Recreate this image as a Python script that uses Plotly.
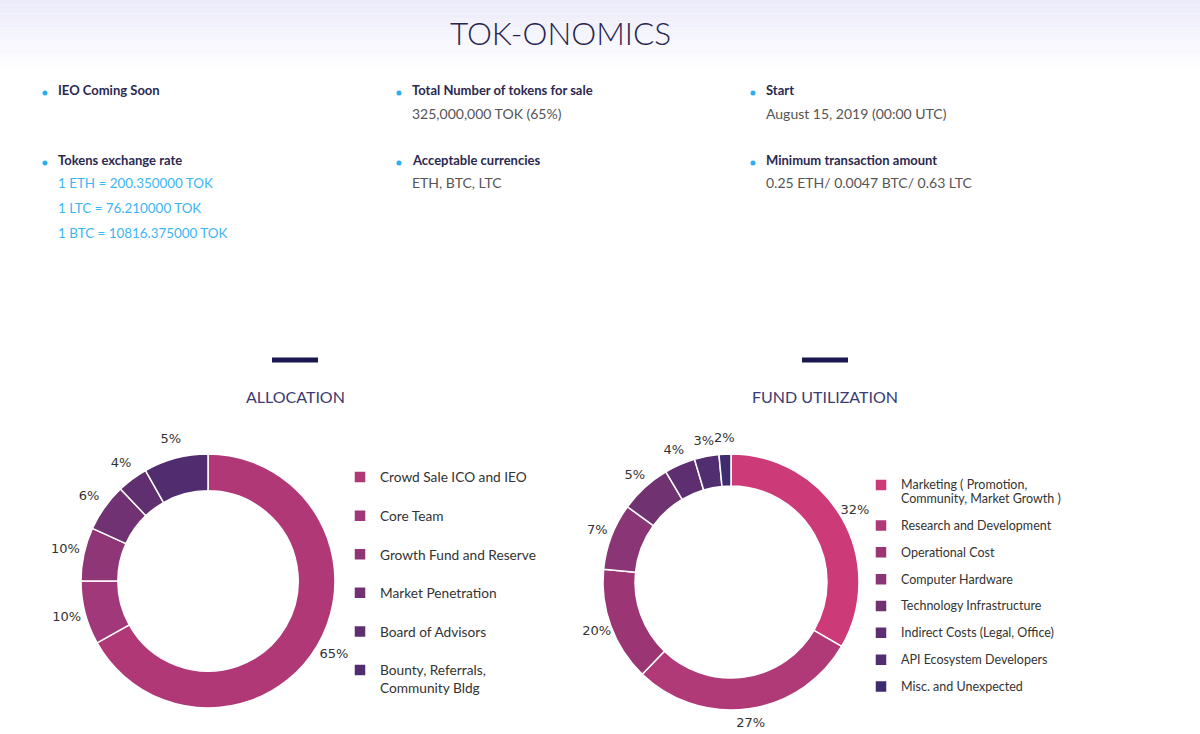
import plotly.graph_objects as go

# ---------------- data ----------------
page_title = "TOK-ONOMICS"

info_headings = [
    "IEO Coming Soon", "Total Number of tokens for sale", "Start",
    "Tokens exchange rate", "Acceptable currencies", "Minimum transaction amount",
]
info_values = [
    [], ["325,000,000 TOK (65%)"], ["August 15, 2019 (00:00 UTC)"],
    ["1 ETH = 200.350000 TOK", "1 LTC = 76.210000 TOK", "1 BTC = 10816.375000 TOK"],
    ["ETH, BTC, LTC"], ["0.25 ETH/ 0.0047 BTC/ 0.63 LTC"],
]
info_value_is_rate = [False, False, False, True, False, False]

alloc_title = "ALLOCATION"
alloc_categories = [
    "Crowd Sale ICO and IEO", "Core Team", "Growth Fund and Reserve",
    "Market Penetration", "Board of Advisors", "Bounty, Referrals,<br>Community Bldg",
]
alloc_shares_drawn = [66.9, 8.1, 6.8, 6.1, 3.9, 8.2]        # slice sizes as drawn
alloc_pct_text = ["65%", "10%", "10%", "6%", "4%", "5%"]      # printed labels

fund_title = "FUND UTILIZATION"
fund_categories = [
    "Marketing ( Promotion,<br>Community, Market Growth )", "Research and Development",
    "Operational Cost", "Computer Hardware", "Technology Infrastructure",
    "Indirect Costs (Legal, Office)", "API Ecosystem Developers", "Misc. and Unexpected",
]
fund_shares_drawn = [33.4, 28.8, 14.4, 8.4, 6.5, 3.9, 3.1, 1.5]
fund_pct_text = ["32%", "27%", "20%", "7%", "5%", "4%", "3%", "2%"]

# ---------------- styles ----------------
W, H = 1200, 734
alloc_colors = ["#b13877", "#a0387a", "#8e3676", "#703272", "#5f2f70", "#512d6f"]
fund_colors = ["#cd3a78", "#b03a77", "#9b3574", "#8a3576", "#703270", "#5e2f70", "#502e6f", "#3e2c6e"]
NAVY = "#27244f"
HEAD = "#2b2950"
GRAY = "#555555"
BLUE = "#3db5f3"
FONT = "Lato"
PCT_FONT = dict(family="DejaVu Sans", size=13, color="#333333")
CLEAR = "rgba(0,0,0,0)"


def px(x):
    return x / W


def py(y):
    return 1 - y / H


def domain(cx, cy, r):
    return dict(x=[px(cx - r), px(cx + r)], y=[py(cy + r), py(cy - r)])


def mid_angles(shares):
    """Mid angle (degrees, clockwise from 12 o'clock) of each slice."""
    total = float(sum(shares))
    out, acc = [], 0.0
    for s in shares:
        out.append((acc + s / 2) / total * 360)
        acc += s
    return out


ALLOC_C, ALLOC_R, ALLOC_LABEL_R = (208, 581), 127, 146
FUND_C, FUND_R, FUND_LABEL_R = (731, 582), 128, 143
POLAR_R = 150

fig = go.Figure()

# ---- allocation donut ----
alloc_legend_text = [c if "<br>" in c else c + "<br> " for c in alloc_categories]
fig.add_trace(go.Pie(
    labels=alloc_legend_text, values=alloc_shares_drawn,
    textinfo="none", sort=False, direction="clockwise", rotation=0, hole=0.71,
    marker=dict(colors=alloc_colors, line=dict(color="white", width=1.5)),
    domain=domain(*ALLOC_C, ALLOC_R), legend="legend", hoverinfo="skip",
))

# ---- fund utilization donut ----
FUND_LEG_FONT = 2.62
FUND_LH = FUND_LEG_FONT * 1.3


def fund_label(c):
    parts = c.split("<br>")
    span = "<span style='font-size:12.5px'>%s</span>"
    if len(parts) == 1:
        lines = [" ", span % parts[0]] + [" "] * 5
    else:
        lines = [" ", span % parts[0], " ", " ", " ", span % parts[1]] + [" "] * 5
    return "<br>".join(lines)


fig.add_trace(go.Pie(
    labels=[fund_label(c) for c in fund_categories], values=fund_shares_drawn,
    textinfo="none", sort=False, direction="clockwise", rotation=0, hole=0.75,
    marker=dict(colors=fund_colors, line=dict(color="white", width=1.5)),
    domain=domain(*FUND_C, FUND_R), legend="legend2", hoverinfo="skip",
))

# ---- percentage labels, placed on polar subplots aligned with the donuts ----
fig.add_trace(go.Scatterpolar(
    theta=mid_angles(alloc_shares_drawn), r=[ALLOC_LABEL_R] * len(alloc_pct_text),
    text=alloc_pct_text, mode="text", textfont=PCT_FONT, subplot="polar",
    showlegend=False, hoverinfo="skip", cliponaxis=False,
))
fig.add_trace(go.Scatterpolar(
    theta=mid_angles(fund_shares_drawn), r=[FUND_LABEL_R] * len(fund_pct_text),
    text=fund_pct_text, mode="text", textfont=PCT_FONT, subplot="polar2",
    showlegend=False, hoverinfo="skip", cliponaxis=False,
))

hidden_polar = dict(
    bgcolor=CLEAR,
    radialaxis=dict(range=[0, POLAR_R], visible=False),
    angularaxis=dict(rotation=90, direction="clockwise", visible=False),
)

shapes = []
# top lavender gradient
n_strips = 16
for i in range(n_strips):
    t = i / (n_strips - 1)
    r = int(236 + (255 - 236) * t)
    g = int(235 + (255 - 235) * t)
    b = int(250 + (255 - 250) * t)
    shapes.append(dict(type="rect", xref="paper", yref="paper", x0=0, x1=1,
                       y0=py(i * 4.5 + 4.5), y1=py(i * 4.5), fillcolor="rgb(%d,%d,%d)" % (r, g, b),
                       line=dict(width=0), layer="below"))

annotations = [dict(text=page_title, x=px(560), y=py(33), xref="paper", yref="paper",
                    showarrow=False, xanchor="center", yanchor="middle",
                    font=dict(family=FONT, size=31.5, color=NAVY, weight=300))]

col_x = [58, 412, 766]
row_y = [90, 160]
for k, head in enumerate(info_headings):
    cx = col_x[k % 3]
    ry = row_y[k // 3]
    shapes.append(dict(type="circle", xref="paper", yref="paper",
                       x0=px(cx - 15.5), x1=px(cx - 10.5), y0=py(ry + 5.5), y1=py(ry + 0.5),
                       fillcolor="#2aaef0", line=dict(width=0)))
    annotations.append(dict(text=head, x=px(cx - 2), y=py(ry), xref="paper", yref="paper",
                            showarrow=False, xanchor="left", yanchor="middle",
                            font=dict(family=FONT, size=13, color=HEAD, weight=700)))
    for j, val in enumerate(info_values[k]):
        rate = info_value_is_rate[k]
        annotations.append(dict(text=val, x=px(cx - 2), y=py(ry + 23 + 25 * j), xref="paper",
                                yref="paper", showarrow=False, xanchor="left", yanchor="middle",
                                font=dict(family=FONT, size=13.4 if rate else 14,
                                          color=BLUE if rate else GRAY)))

for cx, title in [(295, alloc_title), (825, fund_title)]:
    shapes.append(dict(type="rect", xref="paper", yref="paper",
                       x0=px(cx - 23), x1=px(cx + 23), y0=py(362.5), y1=py(357.5),
                       fillcolor="#1a1652", line=dict(width=0)))
    annotations.append(dict(text=title, x=px(cx), y=py(396), xref="paper", yref="paper",
                            showarrow=False, xanchor="center", yanchor="middle",
                            font=dict(family=FONT, size=16, color="#3b3a72")))

# fund legend: first (Marketing) item is 11 lines tall, symbol on line 0
n_m = 11
first_symbol_offset = 5 + (n_m * FUND_LH + 3) / 2 - (n_m - 1) / 2 * FUND_LH

fig.update_layout(
    width=W, height=H, margin=dict(l=0, r=0, t=0, b=0),
    paper_bgcolor="white", plot_bgcolor="white",
    shapes=shapes, annotations=annotations,
    polar=dict(domain=domain(*ALLOC_C, POLAR_R), **hidden_polar),
    polar2=dict(domain=domain(*FUND_C, POLAR_R), **hidden_polar),
    legend=dict(x=px(340), y=py(461.6), xanchor="left", yanchor="top", valign="top",
                font=dict(family=FONT, size=13.7, color="#333333"), bgcolor=CLEAR,
                itemclick=False, itemdoubleclick=False),
    legend2=dict(x=px(861), y=py(485 - first_symbol_offset), xanchor="left", yanchor="top",
                 valign="top",
                 font=dict(family=FONT, size=FUND_LEG_FONT, color="#333333"), bgcolor=CLEAR,
                 itemclick=False, itemdoubleclick=False),
)

fig.write_html("out.html")
